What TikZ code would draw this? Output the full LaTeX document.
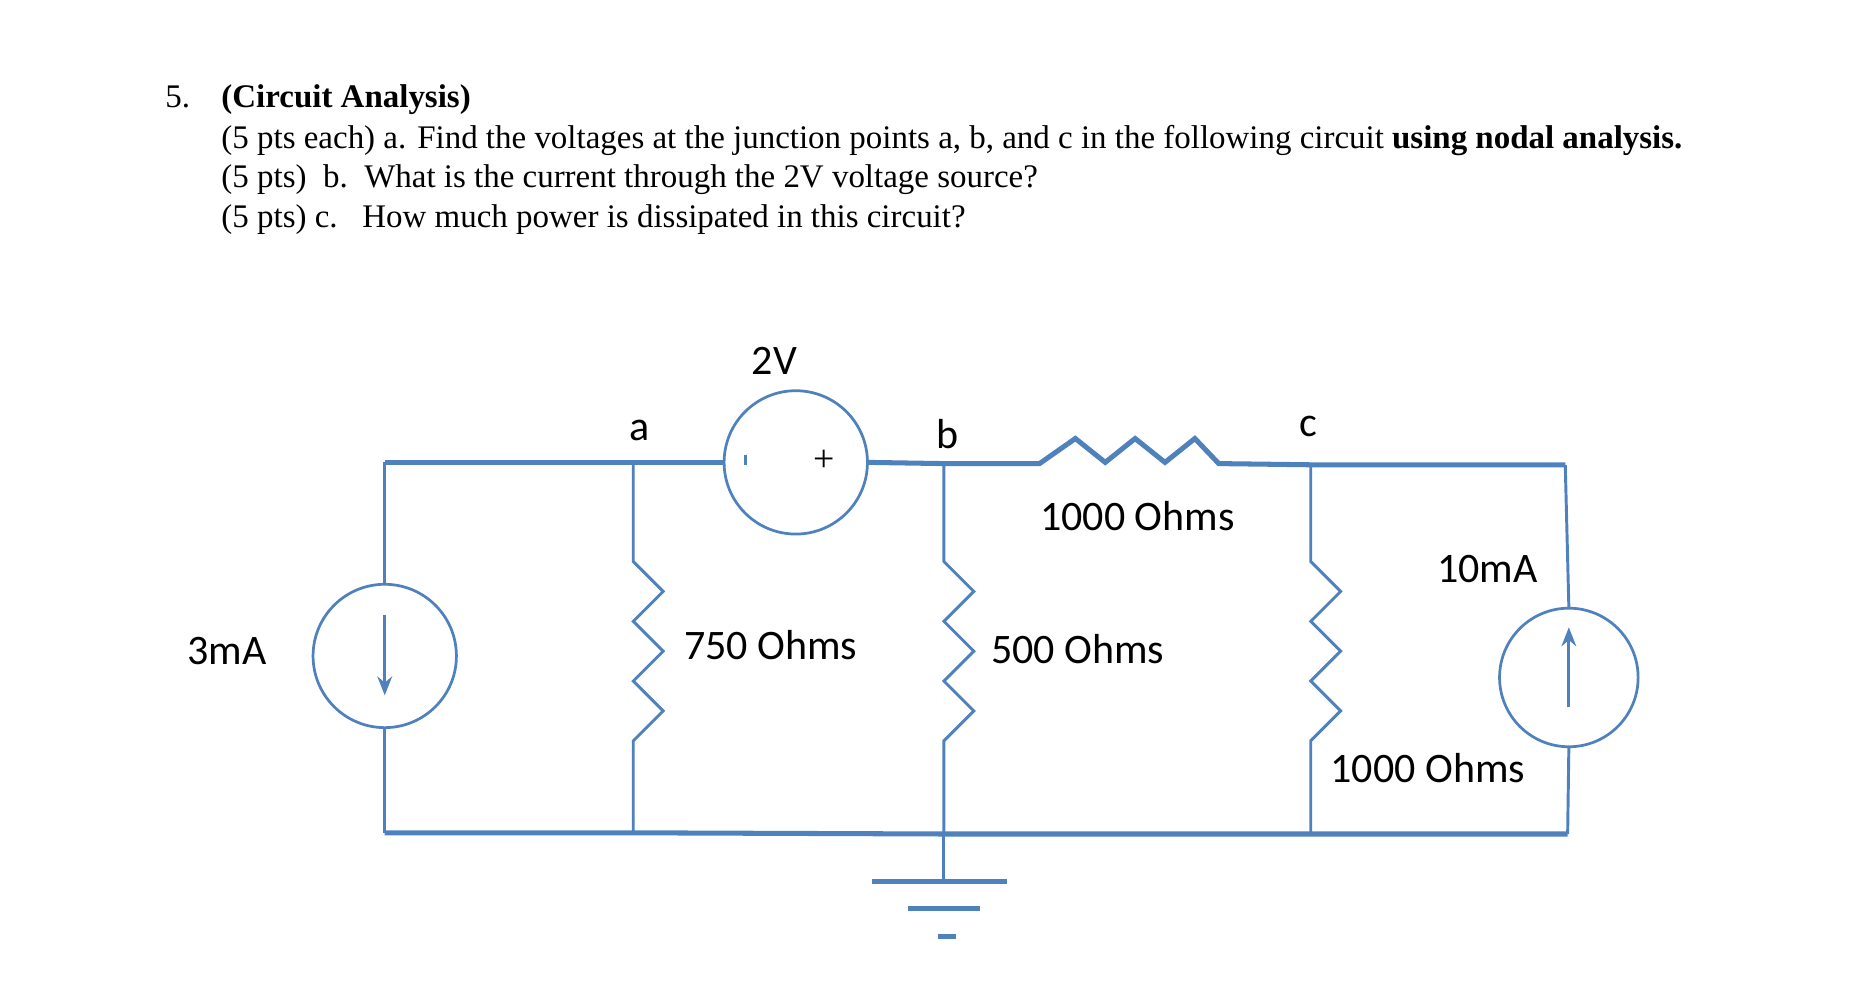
\documentclass[tikz,border=0pt]{standalone}
\usepackage{fontspec}
\setmainfont{Liberation Serif}
\newfontfamily\diagfont{Carlito}
\usetikzlibrary{arrows.meta}
\definecolor{wireblue}{RGB}{79,129,189}
\tikzset{
  wire/.style={line width=2.4pt, wireblue},
  thinwire/.style={line width=1.4pt, wireblue},
  src/.style={circle, draw=wireblue, line width=1.3pt, inner sep=0pt},
  lbl/.style={font=\diagfont\fontsize{20}{22}\selectfont, inner sep=0pt},
  qtext/.style={font=\fontsize{15.7}{18}\selectfont, anchor=base west, inner sep=0pt}
}
\begin{document}
\begin{tikzpicture}[x=0.02cm, y=-0.02cm]
            \useasboundingbox (0,0) rectangle (1550,837);
            % question text
            \node[qtext] (num) at (138,90) {5.};
            \node[qtext] (q0) at (185,90) {\textbf{(Circuit Analysis)}};
            \node[qtext] (q1) at (185,124) {(5 pts each) a. Find the voltages at the junction points a, b, and c in the following circuit \textbf{using nodal analysis.}};
            \node[qtext] (q2) at (185,157) {(5 pts)\ \ b.\ \ What is the current through the 2V voltage source?};
            \node[qtext] (q3) at (185,190) {(5 pts) c.\ \ \ How much power is dissipated in this circuit?};
            % junctions
            \coordinate (tl) at (322,387);
            \coordinate (a) at (530,387);
            \coordinate (b) at (790,388);
            \coordinate (c) at (1097,389);
            \coordinate (tr) at (1310,389);
            \coordinate (bl) at (322,697);
            \coordinate (ga) at (530,697);
            \coordinate (g) at (790,698);
            \coordinate (gc) at (1097,698);
            \coordinate (br) at (1312,698);
            % sources
            \node[src, minimum size=2.4cm] (vs) at (666,387) {};
            \node[src, minimum size=2.4cm] (is3) at (322,549) {};
            \node[src, minimum size=2.32cm] (is10) at (1313,567) {};
            \draw[thinwire] (624,381) -- (624,389);
            \node[font=\fontsize{18}{20}\selectfont] (plus) at (690,386) {+};
            \draw[thinwire, -{Stealth[length=9pt,width=7pt]}] (322,515) -- (322,582);
            \draw[thinwire, -{Stealth[length=9pt,width=7pt]}] (1313,592) -- (1313,525);
            % wires
            \draw[wire] (tl) -- (a) -- (vs.west);
            \draw[wire] (vs.east) -- (b) -- (870,388) -- (900,367) -- (925,387) -- (950,367)
              -- (975,387) -- (1000,367) -- (1020,388) -- (c) -- (tr);
            \draw[thinwire] (tl) -- (is3.north);
            \draw[thinwire] (is3.south) -- (bl);
            \draw[thinwire] (tr) -- (is10.north);
            \draw[thinwire] (is10.south) -- (br);
            \draw[wire] (bl) -- (ga) -- (g) -- (gc) -- (br);
            % resistors
            \foreach \x/\n in {530/ga, 790/g, 1097/gc}{
              \draw[thinwire] (\x,389) -- (\x,470) -- (\x+25,495) -- (\x,520) -- (\x+25,545)
                -- (\x,570) -- (\x+25,595) -- (\x,620) -- (\n);
            }
            % ground
            \draw[thinwire] (g) -- (790,738);
            \draw[wire] (730,738) -- (843,738);
            \draw[wire] (760,760) -- (820,760);
            \draw[wire] (785,784) -- (800,784);
            % labels
            \node[lbl] (l2v) at (648,302) {2V};
            \node[lbl] (la) at (535,360) {a};
            \node[lbl] (lb) at (793,363) {b};
            \node[lbl] (lc) at (1095,357) {c};
            \node[lbl] (r1) at (952,432) {1000 Ohms};
            \node[lbl] (l10) at (1245,476) {10mA};
            \node[lbl] (l3) at (190,545) {3mA};
            \node[lbl] (r750) at (645,540) {750 Ohms};
            \node[lbl] (r500) at (902,543) {500 Ohms};
            \node[lbl] (r4) at (1195,643) {1000 Ohms};
        \end{tikzpicture}
\end{document}
